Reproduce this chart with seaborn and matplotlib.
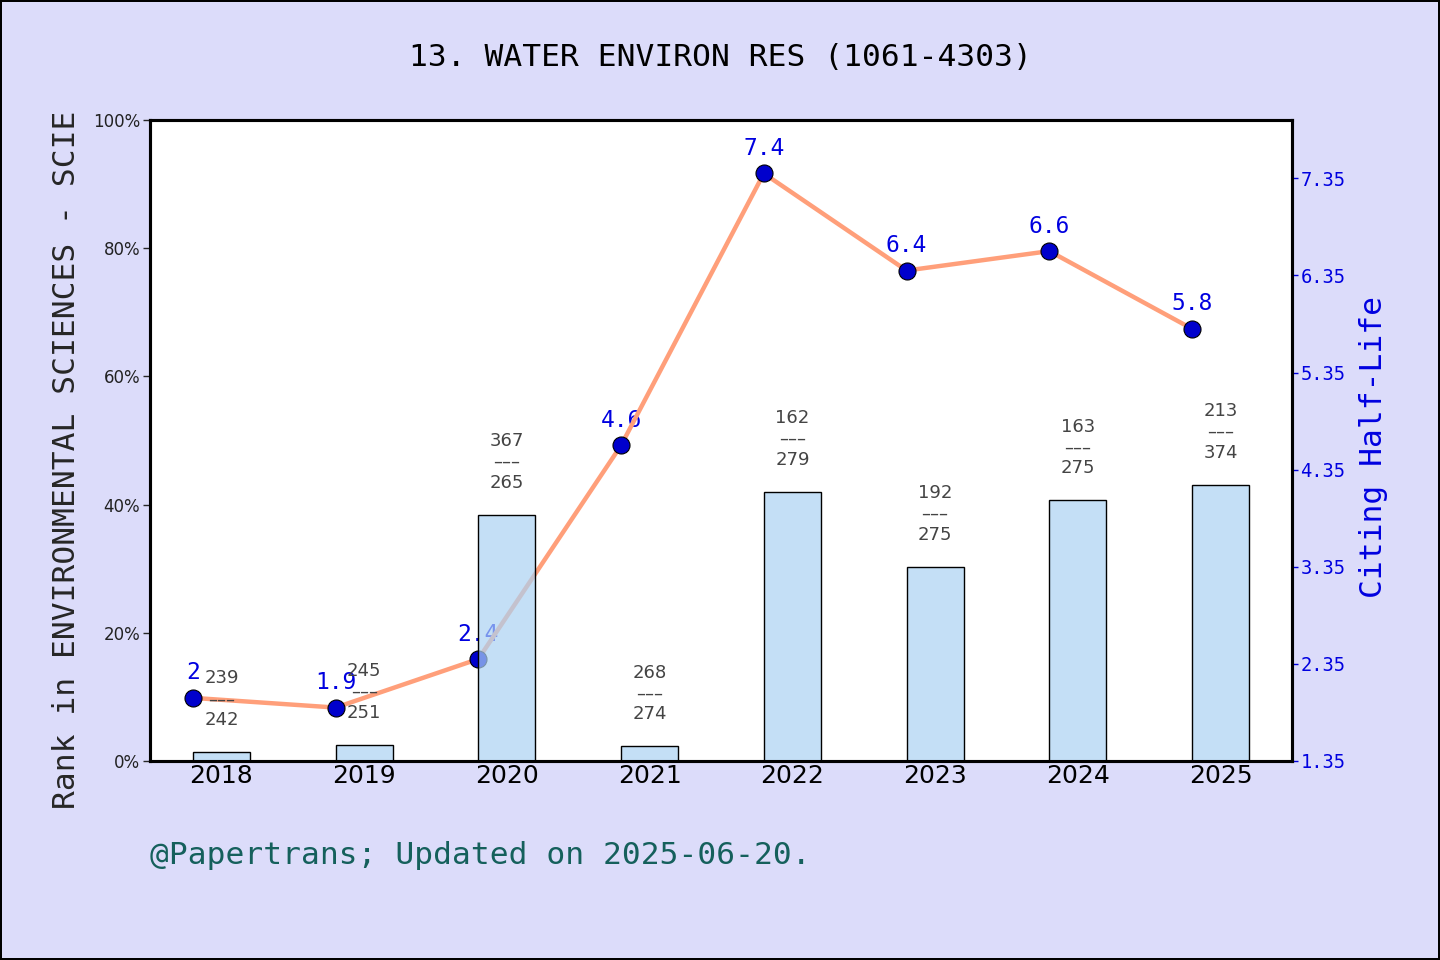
import numpy as np
import pandas as pd
import matplotlib
matplotlib.use("Agg")
import matplotlib.pyplot as plt
import seaborn as sns

# Data
years = ["2018", "2019", "2020", "2021", "2022", "2023", "2024", "2025"]
rank_pct = [1.4, 2.5, 38.4, 2.3, 42.0, 30.3, 40.7, 43.1]   # bar height, % of category
rank_num = [239, 245, 367, 268, 162, 192, 163, 213]
rank_den = [242, 251, 265, 274, 279, 275, 275, 374]
half_life = [2.0, 1.9, 2.4, 4.6, 7.4, 6.4, 6.6, 5.8]
right_ticks = [1.35, 2.35, 3.35, 4.35, 5.35, 6.35, 7.35]

mono = "DejaVu Sans Mono"
bg = "#dcdcfa"
blue = "#0000e0"

sns.set_style("white")
plt.rcParams["font.family"] = ["DejaVu Sans"]

df = pd.DataFrame({"year": years, "pct": [v / 100 for v in rank_pct]})
line_df = pd.DataFrame({"x": np.arange(len(years)) - 0.2, "hl": half_life})

fig = plt.figure(figsize=(14.4, 9.6), dpi=100, facecolor=bg,
                 edgecolor="black", linewidth=1.5)
ax = fig.add_subplot(111)
fig.subplots_adjust(left=0.1042, right=0.8972, top=0.875, bottom=0.2073)
ax2 = ax.twinx()

# bars on the left (percent) axis, drawn above the line axis
sns.barplot(data=df, x="year", y="pct", ax=ax, color="#abd2f3",
            saturation=1, width=0.4, edgecolor="black", linewidth=1)
for p in ax.patches:
    p.set_facecolor((171 / 255, 210 / 255, 243 / 255, 0.7))
    p.set_edgecolor("black")
ax.set_zorder(2)
ax2.set_zorder(1)
ax.patch.set_visible(False)
ax2.patch.set_facecolor("white")
ax2.patch.set_visible(True)

# half-life line on the right axis
sns.lineplot(data=line_df, x="x", y="hl", ax=ax2, color="#ff9f7a",
             linewidth=3.2, zorder=2)
ax2.scatter(line_df["x"], line_df["hl"], s=150, color="#0000cc",
            edgecolor="black", linewidth=0.8, zorder=4)
for x, v in zip(line_df["x"], half_life):
    ax2.annotate(f"{v:g}", (x, v), xytext=(0, 18), textcoords="offset points",
                 ha="center", va="center", fontsize=16.5, color=blue,
                 family=mono, zorder=1.5)

# rank fraction labels above bars
for i, p in enumerate(df["pct"]):
    ax.annotate(f"{rank_num[i]}\n–––\n{rank_den[i]}", (i, p), xytext=(0, 38),
                textcoords="offset points", ha="center", va="center",
                fontsize=13, color="#444444", linespacing=1.2)

ax.set_xlim(-0.5, len(years) - 0.5)
ax.set_ylim(0, 1)
ax.set_yticks(np.arange(0, 1.01, 0.2))
ax.set_yticklabels([f"{int(t * 100)}%" for t in np.arange(0, 1.01, 0.2)],
                   fontsize=12, color="#222222")
ax.set_xticks(range(len(years)))
ax.set_xticklabels(years, fontsize=18, color="black")
ax.set_xticks(np.arange(0.5, len(years) - 1, 1), minor=True)
ax.tick_params(axis="x", which="major", length=0, pad=2)
ax.tick_params(axis="x", which="minor", direction="in", length=6, width=1)
ax.tick_params(axis="y", direction="out", length=5, width=1, left=True, pad=2)
ax.set_xlabel("")
ax.set_ylabel("")

ax2.set_ylim(1.35, 7.95)
ax2.set_yticks(right_ticks)
ax2.set_yticklabels([f"{t:.2f}" for t in right_ticks], fontsize=13.5,
                    color=blue, family=mono)
ax2.tick_params(axis="y", direction="out", length=4, width=1, colors=blue,
                right=True, pad=2)
ax2.set_ylabel("")
ax2.set_xlabel("")

for a in (ax, ax2):
    for s in a.spines.values():
        s.set_visible(True)
        s.set_color("black")
        s.set_linewidth(2.2)

fig.text(0.5, 1 - 57 / 960, "13. WATER ENVIRON RES (1061-4303)",
         ha="center", va="center", fontsize=22.5, family=mono, color="black")
fig.text(67 / 1440, 1 - 460 / 960, "Rank in ENVIRONMENTAL SCIENCES - SCIE",
         rotation=90, ha="center", va="center", fontsize=22.5, family=mono)
fig.text(1373 / 1440, 1 - 447 / 960, "Citing Half-Life", rotation=90,
         ha="center", va="center", fontsize=22.5, family=mono, color=blue)
fig.text(150 / 1440, 1 - 855 / 960, "@Papertrans; Updated on 2025-06-20.",
         ha="left", va="center", fontsize=22.5, family=mono, color="#15605c")

fig.savefig("out.png", dpi=100, facecolor=bg, edgecolor="black")
